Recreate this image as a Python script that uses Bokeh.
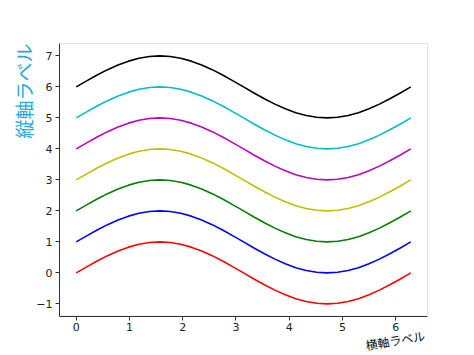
from bokeh.plotting import figure
from bokeh.models import (Range1d, FixedTicker, LinearAxis, CustomJSTickFormatter,
                          Label, BoxAnnotation)
from bokeh.embed import file_html
from bokeh.resources import INLINE

x_vals = [0.0, 0.196, 0.393, 0.589, 0.785, 0.982, 1.178, 1.374, 1.571, 1.767, 1.963,
          2.160, 2.356, 2.553, 2.749, 2.945, 3.142, 3.338, 3.534, 3.731, 3.927, 4.123,
          4.320, 4.516, 4.712, 4.909, 5.105, 5.301, 5.498, 5.694, 5.890, 6.087, 6.283]
base_vals = [0.0, 0.195, 0.383, 0.556, 0.707, 0.831, 0.924, 0.981, 1.0, 0.981, 0.924,
             0.831, 0.707, 0.556, 0.383, 0.195, 0.0, -0.195, -0.383, -0.556, -0.707, -0.831,
             -0.924, -0.981, -1.0, -0.981, -0.924, -0.831, -0.707, -0.556, -0.383, -0.195, 0.0]
offsets = [0, 1, 2, 3, 4, 5, 6]
line_colors = ["#ff0000", "#0000ff", "#008000", "#bfbf00", "#bf00bf", "#00bfbf", "#000000"]
x_ticks = [0, 1, 2, 3, 4, 5, 6]
y_ticks = [-1, 0, 1, 2, 3, 4, 5, 6, 7]
x_label = "横軸ラベル"
y_label = "縦軸ラベル"

# axes box limits
x_lo, x_hi = -0.314, 6.597
y_lo, y_hi = -1.4, 7.4
y_canvas_lo = -2.665   # the frame reaches the bottom edge of the page

p = figure(width=474, height=355, output_backend="svg", toolbar_location=None,
           x_range=Range1d(x_lo, x_hi), y_range=Range1d(y_canvas_lo, y_hi))
p.min_border_left = 59
p.min_border_right = 47
p.min_border_top = 43
p.min_border_bottom = 0
p.background_fill_color = "white"
p.border_fill_color = "white"
p.grid.visible = False
p.outline_line_color = None

# axes box
p.add_layout(BoxAnnotation(left=x_lo, right=x_hi, bottom=y_lo, top=y_hi,
                           fill_color=None, line_color="#333333", line_width=1))

for off, col in zip(offsets, line_colors):
    p.line(x_vals, [b + off for b in base_vals], line_color=col, line_width=1.6)

for ax in (p.xaxis[0], p.yaxis[0]):
    ax.axis_line_color = "#333333"
    ax.major_tick_line_color = "#333333"
    ax.major_tick_out = 4
    ax.major_tick_in = 0
    ax.minor_tick_line_color = None
    ax.major_label_text_font = "DejaVu Sans"
    ax.major_label_text_font_size = "11px"
    ax.major_label_text_color = "#222222"
    ax.major_label_standoff = 3

p.xaxis[0].ticker = FixedTicker(ticks=x_ticks)
p.xaxis[0].fixed_location = y_lo
p.yaxis[0].ticker = FixedTicker(ticks=y_ticks)
p.yaxis[0].bounds = (y_lo, y_hi)
p.yaxis[0].major_label_overrides = {-1: "\u22121"}

# y-axis title drawn as a single vertical tick label of an extra left axis
ylab_axis = LinearAxis(ticker=FixedTicker(ticks=[5.87]),
                       formatter=CustomJSTickFormatter(code="return '%s';" % y_label))
ylab_axis.axis_line_color = None
ylab_axis.major_tick_line_color = None
ylab_axis.minor_tick_line_color = None
ylab_axis.major_tick_out = 0
ylab_axis.major_tick_in = 0
ylab_axis.major_label_standoff = -4
ylab_axis.major_label_orientation = "vertical"
ylab_axis.major_label_text_font = "Noto Sans CJK JP"
ylab_axis.major_label_text_font_size = "19px"
ylab_axis.major_label_text_color = "#2aa9e0"
p.add_layout(ylab_axis, "left")

# x-axis title, slightly rotated, below the axes box
p.add_layout(Label(x=5.99, y=-2.16, text=x_label, angle=0.17, text_align="center",
                   text_baseline="middle", text_font="Noto Sans CJK JP",
                   text_font_size="12px", text_color="#111111"))

open("out.html", "w").write(file_html(p, INLINE))
